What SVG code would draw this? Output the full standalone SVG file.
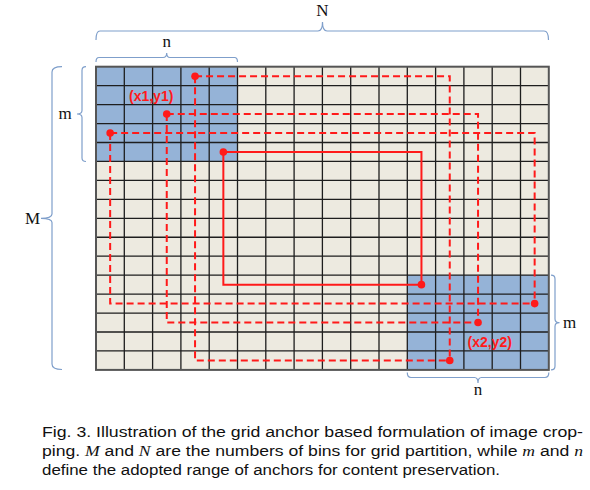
<svg xmlns="http://www.w3.org/2000/svg" width="590" height="490" viewBox="0 0 590 490">
<defs>
<style>
.beige{fill:#EDEAE0}
.blue{fill:#95B3D7}
.grid{stroke:#1e1e1e;stroke-width:1.3;fill:none}
.border{stroke:#555;stroke-width:2;fill:none}
.brace{stroke:#7F9FCB;stroke-width:1.2;fill:none}
.lbl{font-family:"Liberation Serif","Times New Roman",serif;font-size:17px;fill:#111}
.dash{stroke:#FF1A1A;stroke-width:2;fill:none;stroke-dasharray:7 4}
.solid{stroke:#FF1A1A;stroke-width:2;fill:none}
.dot{fill:#FF1A1A}
.coord{font-family:"Liberation Sans",Arial,sans-serif;font-size:14px;font-weight:bold;fill:#FF1A1A}
.cap{font-family:"Liberation Sans",Arial,Helvetica,sans-serif;font-size:15.5px;fill:#111}
.math{font-family:"Liberation Serif","Times New Roman",serif;font-style:italic}
</style>
</defs>
<g id="grid">
<rect class="beige" x="96" y="66.7" width="452.8" height="303.2"/>
<rect class="blue" x="96" y="66.7" width="141.5" height="94.75"/>
<rect class="blue" x="407.3" y="275.15" width="141.5" height="94.75"/>
<path class="grid" d="M124.3,66.7V369.9M152.6,66.7V369.9M180.9,66.7V369.9M209.2,66.7V369.9M237.5,66.7V369.9M265.8,66.7V369.9M294.1,66.7V369.9M322.4,66.7V369.9M350.7,66.7V369.9M379,66.7V369.9M407.3,66.7V369.9M435.6,66.7V369.9M463.9,66.7V369.9M492.2,66.7V369.9M520.5,66.7V369.9
M96,85.65H548.8M96,104.6H548.8M96,123.55H548.8M96,142.5H548.8M96,161.45H548.8M96,180.4H548.8M96,199.35H548.8M96,218.3H548.8M96,237.25H548.8M96,256.2H548.8M96,275.15H548.8M96,294.1H548.8M96,313.05H548.8M96,332H548.8M96,350.95H548.8"/>
<rect class="border" x="96" y="66.7" width="452.8" height="303.2"/>
</g>
<g id="braces">
<path class="brace" d="M96,40 Q96,31 100,31 L318,31 Q322.5,31 322.5,22 Q322.5,31 327,31 L544,31 Q548.5,31 548.5,40"/>
<path class="brace" d="M96,62 Q96,57.5 99,57.5 L163,57.5 Q166.7,57.5 166.7,53 Q166.7,57.5 170,57.5 L234.5,57.5 Q237.5,57.5 237.5,62"/>
<path class="brace" d="M86,66.7 Q82,66.7 82,70.5 L82,110.5 Q82,114 77,114 Q82,114 82,117.5 L82,158 Q82,161.5 86,161.5"/>
<path class="brace" d="M62,66.7 Q52,66.7 52,72 L52,214 Q52,218.3 41,218.3 Q52,218.3 52,222.5 L52,364 Q52,369.5 62,369.5"/>
<path class="brace" d="M551,275.2 Q555,275.2 555,279 L555,319 Q555,322.7 559.5,322.7 Q555,322.7 555,326.5 L555,366 Q555,369.9 551,369.9"/>
<path class="brace" d="M407.3,372.5 Q407.3,377.5 411,377.5 L474.5,377.5 Q478,377.5 478,383 Q478,377.5 481.5,377.5 L545,377.5 Q548.8,377.5 548.8,372.5"/>
</g>
<g id="labels">
<text class="lbl" x="322.5" y="16" text-anchor="middle">N</text>
<text class="lbl" x="166.7" y="47" text-anchor="middle">n</text>
<text class="lbl" x="65" y="118.5" text-anchor="middle">m</text>
<text class="lbl" x="32.5" y="223.5" text-anchor="middle">M</text>
<text class="lbl" x="569.5" y="328" text-anchor="middle">m</text>
<text class="lbl" x="478" y="395" text-anchor="middle">n</text>
</g>
<g id="connectors">
<path class="dash" d="M195.05,76.18H449.75V360.43M195.05,76.18V360.43H449.75"/>
<path class="dash" d="M166.75,114.08H478.05V322.53M166.75,114.08V322.53H478.05"/>
<path class="dash" d="M110.15,133.03H534.65V303.58M110.15,133.03V303.58H534.65"/>
<path class="solid" d="M223.35,151.98H421.45V284.63M223.35,151.98V284.63H421.45"/>
</g>
<g id="anchors">
<circle class="dot" cx="195.05" cy="76.18" r="3.8"/>
<circle class="dot" cx="449.75" cy="360.43" r="3.8"/>
<circle class="dot" cx="166.75" cy="114.08" r="3.8"/>
<circle class="dot" cx="478.05" cy="322.53" r="3.8"/>
<circle class="dot" cx="110.15" cy="133.03" r="3.8"/>
<circle class="dot" cx="534.65" cy="303.58" r="3.8"/>
<circle class="dot" cx="223.35" cy="151.98" r="3.8"/>
<circle class="dot" cx="421.45" cy="284.63" r="3.8"/>
<text class="coord" x="129" y="101">(x1,y1)</text>
<text class="coord" x="467.5" y="347">(x2,y2)</text>
</g>
<g id="caption">
<text class="cap" x="42" y="437" textLength="541" lengthAdjust="spacingAndGlyphs">Fig. 3. Illustration of the grid anchor based formulation of image crop-</text>
<text class="cap" x="42" y="456" textLength="541" lengthAdjust="spacingAndGlyphs">ping. <tspan class="math">M</tspan> and <tspan class="math">N</tspan> are the numbers of bins for grid partition, while <tspan class="math">m</tspan> and <tspan class="math">n</tspan></text>
<text class="cap" x="42" y="475" textLength="458" lengthAdjust="spacingAndGlyphs">define the adopted range of anchors for content preservation.</text>
</g>
</svg>
